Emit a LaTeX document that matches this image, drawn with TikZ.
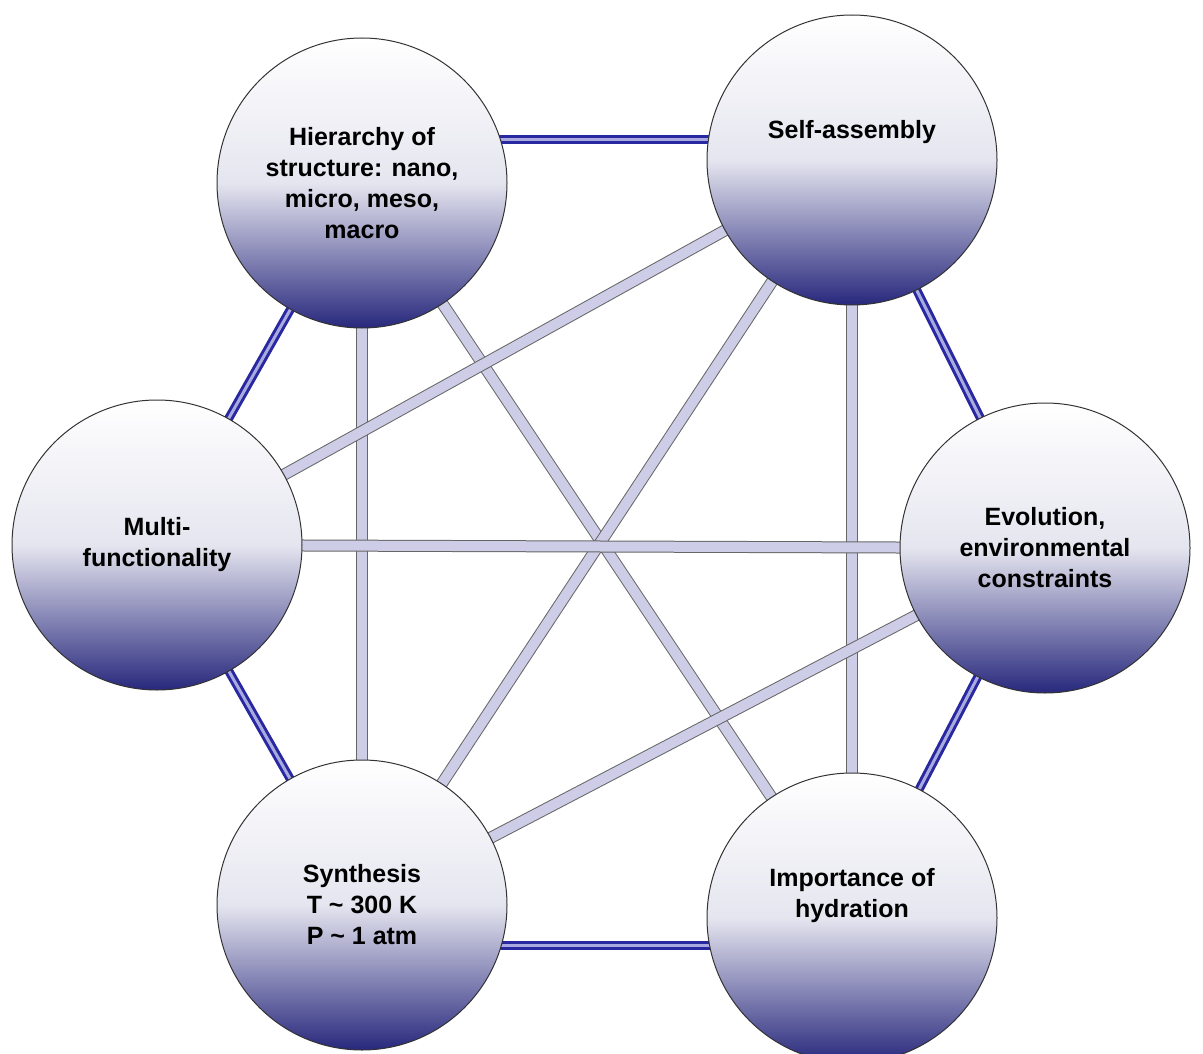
\documentclass[tikz,border=0pt]{standalone}
\usepackage{fontspec}
\setmainfont{Liberation Sans}
\usetikzlibrary{backgrounds}
\definecolor{dblue}{RGB}{40,40,125}
\definecolor{eblue}{RGB}{40,40,160}
\definecolor{lblue}{RGB}{170,170,225}
\definecolor{tube}{RGB}{205,205,232}
\tikzset{
 ball/.style={circle,minimum size=290pt,draw=black!80,line width=1pt,top color=white,bottom color=dblue,middle color=white!88!dblue,shading angle=0,align=center,font=\bfseries\fontsize{25}{31}\selectfont},
 rim/.style={draw=eblue,line width=3pt,double=lblue,double distance=3pt},
 inner/.style={draw=black!60,line width=1pt,double=tube,double distance=10pt}
}
\begin{document}
\begin{tikzpicture}[x=1pt,y=-1pt]
\useasboundingbox (0,0) rectangle (1203,1054);
\node[ball] (H) at (362,183) {Hierarchy of\\structure: nano,\\micro, meso,\\macro};
\node[ball] (S) at (852,160) {Self-assembly\\[30pt]};
\node[ball] (M) at (157,545) {Multi-\\functionality};
\node[ball] (E) at (1045,548) {Evolution,\\environmental\\constraints};
\node[ball] (Y) at (362,905) {Synthesis\\T \textasciitilde{} 300 K\\P \textasciitilde{} 1 atm};
\node[ball] (I) at (852,918) {Importance of\\hydration\\[20pt]};
\coordinate (hs1) at (H.center |- 0,140);
\coordinate (hs2) at (S.center |- 0,140);
\coordinate (yi1) at (Y.center |- 0,945);
\coordinate (yi2) at (I.center |- 0,945);
\begin{scope}[on background layer]
\draw[rim] (hs1)--(hs2);
\draw[rim] (S.center)--(E.center);
\draw[rim] (E.center)--(I.center);
\draw[rim] (yi1)--(yi2);
\draw[rim] (Y.center)--(M.center);
\draw[rim] (M.center)--(H.center);
\draw[inner] (H.center)--(Y.center);
\draw[inner] (H.center)--(I.center);
\draw[inner] (S.center)--(M.center);
\draw[inner] (S.center)--(Y.center);
\draw[inner] (S.center)--(I.center);
\draw[inner] (M.center)--(E.center);
\draw[inner] (E.center)--(Y.center);
\end{scope}
\end{tikzpicture}
\end{document}
